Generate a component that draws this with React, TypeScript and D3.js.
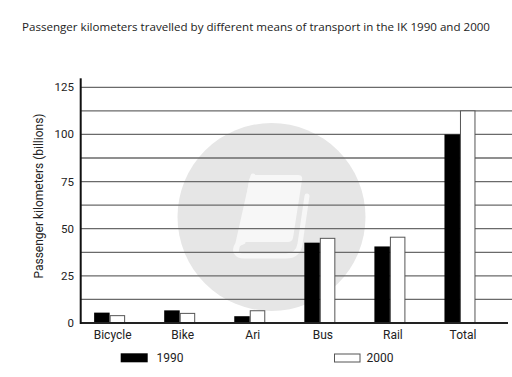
import React from "react";
import * as d3 from "d3";

const categories = ["Bicycle", "Bike", "Ari", "Bus", "Rail", "Total"];
const values1990 = [5.5, 6.7, 3.6, 42.6, 40.6, 100];
const values2000 = [3.9, 5.1, 6.5, 44.9, 45.5, 112.5];
const yTicks = [0, 25, 50, 75, 100, 125];
const seriesNames = ["1990", "2000"];
const subtitle = "Passenger kilometers travelled by different means of transport in the IK 1990 and 2000";
const yTitle = "Passenger kilometers (billions)";

const W = 512;
const H = 377;

export default function App() {
  const y = d3.scaleLinear().domain([0, 125]).range([323, 87.3]);
  const x = d3.scaleBand<string>().domain(categories).range([74.6, 495]).padding(0);
  const axisX = 80.7;
  const barW = 15.5;
  const grid = d3.range(12.5, 126, 12.5);
  const font = "Roboto, 'Noto Sans', sans-serif";

  return (
    <svg width={W} height={H} style={{ position: "absolute", left: 0, top: 0, background: "#fff" }}>
      <rect x={0} y={0} width={W} height={H} fill="#fff" />
      <text x={256} y={31} textAnchor="middle" fontFamily="'Open Sans', sans-serif" fontSize={11.5} fill="#222" textLength={468} lengthAdjust="spacingAndGlyphs">
        {subtitle}
      </text>
      {/* watermark */}
      <circle cx={271.5} cy={217} r={94} fill="#e6e6e6" />
      <path d="M256,175 L298,175 Q303,175 302,180 L293,238 Q292,242 288,242 L244,242 Q239,242 240,238 L249,180 Q250,175 256,175 Z" fill="#f7f7f7" />
      <path d="M243,242 Q234,245 236,252 Q238,256 244,256 L286,256 Q298,256 300,244 L307,196" fill="none" stroke="#f7f7f7" strokeWidth={5} strokeLinecap="round" />
      <path d="M253,176 L236,252" fill="none" stroke="#f7f7f7" strokeWidth={5} strokeLinecap="round" />
      {/* gridlines */}
      {grid.map((g) => (
        <line key={g} x1={axisX} x2={W} y1={y(g)} y2={y(g)} stroke="#6a6a6a" strokeWidth={1.3} />
      ))}
      {/* bars */}
      {categories.map((c, i) => {
        const cx = (x(c) as number) + x.bandwidth() / 2;
        return (
          <g key={c}>
            <rect x={cx - barW} y={y(values1990[i])} width={barW} height={y(0) - y(values1990[i])} fill="#000" />
            <rect x={cx + 0.5} y={y(values2000[i])} width={barW - 1} height={y(0) - y(values2000[i])} fill="#fff" stroke="#555" strokeWidth={1} />
            <text x={cx + 3} y={339} textAnchor="middle" fontFamily={font} fontSize={12} fill="#222">{c}</text>
          </g>
        );
      })}
      {/* axes */}
      <line x1={axisX} x2={508} y1={y(0)} y2={y(0)} stroke="#222" strokeWidth={2} />
      <line x1={axisX} x2={axisX} y1={y(125) - 9} y2={y(0) + 1} stroke="#111" strokeWidth={2} />
      {yTicks.map((t) => (
        <text key={t} x={74} y={y(t) + 4} textAnchor="end" fontFamily={font} fontSize={11.5} fill="#222">{t}</text>
      ))}
      <text transform={`translate(43,196) rotate(-90)`} textAnchor="middle" fontFamily={font} fontSize={12} fill="#222">{yTitle}</text>
      {/* legend */}
      <rect x={120.7} y={353.3} width={27} height={9} fill="#000" />
      <text x={156.5} y={362} fontFamily={font} fontSize={12} fill="#222">{seriesNames[0]}</text>
      <rect x={334.5} y={354} width={25.5} height={8} fill="#fff" stroke="#555" strokeWidth={1} />
      <text x={366.5} y={362} fontFamily={font} fontSize={12} fill="#222">{seriesNames[1]}</text>
    </svg>
  );
}
